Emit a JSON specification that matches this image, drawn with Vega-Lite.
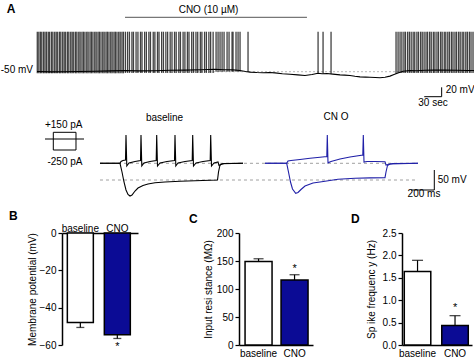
{
  "$schema": "https://vega.github.io/schema/vega-lite/v6.json",
  "padding": 0,
  "background": "white",
  "spacing": 0,
  "bounds": "flush",
  "config": {
    "view": {"stroke": null},
    "font": "Liberation Sans Narrow, Liberation Sans, sans-serif",
    "concat": {"spacing": 0},
    "axis": {"domainColor": "black", "tickColor": "black", "labelColor": "black", "titleColor": "black", "labelFontSize": 10, "titleFontSize": 10, "titleFontWeight": "normal", "grid": false, "domainWidth": 1.5, "tickWidth": 1.2, "tickSize": 4, "labelPadding": 2},
    "text": {"color": "black"}
  },
  "datasets": {
    "spikes": [
      {"t":0.5,"lo":-54,"hi":50},{"t":3.2,"lo":-54,"hi":50},{"t":6.0,"lo":-54,"hi":50},{"t":8.4,"lo":-54,"hi":50},{"t":11.5,"lo":-54,"hi":50},{"t":14.1,"lo":-54,"hi":50},{"t":16.8,"lo":-54,"hi":50},{"t":19.9,"lo":-54,"hi":50},{"t":22.3,"lo":-54,"hi":50},{"t":25.6,"lo":-54,"hi":50},{"t":28.0,"lo":-54,"hi":50},{"t":31.2,"lo":-54,"hi":50},{"t":33.9,"lo":-54,"hi":50},{"t":36.5,"lo":-54,"hi":50},{"t":39.8,"lo":-54,"hi":50},{"t":42.1,"lo":-54,"hi":50},{"t":45.3,"lo":-54,"hi":50},{"t":48.0,"lo":-54,"hi":50},{"t":50.6,"lo":-54,"hi":50},{"t":53.9,"lo":-54,"hi":50},{"t":56.2,"lo":-54,"hi":50},{"t":59.5,"lo":-54,"hi":50},{"t":62.1,"lo":-54,"hi":50},{"t":64.8,"lo":-54,"hi":50},{"t":68.0,"lo":-54,"hi":50},{"t":70.4,"lo":-54,"hi":50},{"t":73.7,"lo":-54,"hi":50},{"t":76.1,"lo":-54,"hi":50},{"t":79.3,"lo":-54,"hi":50},{"t":81.9,"lo":-54,"hi":50},{"t":84.6,"lo":-54,"hi":50},{"t":87.8,"lo":-54,"hi":50},{"t":90.2,"lo":-54,"hi":50},{"t":93.5,"lo":-54,"hi":50},{"t":96.0,"lo":-54,"hi":50},{"t":98.7,"lo":-54,"hi":50},{"t":101.9,"lo":-54,"hi":50},{"t":104.4,"lo":-54,"hi":50},{"t":107.6,"lo":-54,"hi":50},{"t":110.1,"lo":-54,"hi":50},{"t":112.9,"lo":-54,"hi":50},{"t":116.0,"lo":-54,"hi":50},{"t":118.5,"lo":-54,"hi":50},{"t":121.7,"lo":-54,"hi":50},{"t":124.2,"lo":-54,"hi":50},{"t":127.0,"lo":-54,"hi":50},{"t":130.1,"lo":-54,"hi":50},{"t":132.6,"lo":-54,"hi":50},{"t":135.8,"lo":-54,"hi":50},{"t":138.3,"lo":-54,"hi":50},{"t":141.1,"lo":-54,"hi":50},{"t":144.2,"lo":-54,"hi":50},{"t":146.8,"lo":-54,"hi":50},{"t":149.9,"lo":-54,"hi":50},{"t":152.5,"lo":-54,"hi":50},
      {"t":156.0,"lo":-53,"hi":50},{"t":159.8,"lo":-53,"hi":50},{"t":163.1,"lo":-53,"hi":50},{"t":167.5,"lo":-53,"hi":50},{"t":170.2,"lo":-53,"hi":50},{"t":174.8,"lo":-53,"hi":50},{"t":178.1,"lo":-53,"hi":50},{"t":182.6,"lo":-53,"hi":50},{"t":185.3,"lo":-53,"hi":50},{"t":189.9,"lo":-53,"hi":50},{"t":193.0,"lo":-53,"hi":50},{"t":197.4,"lo":-53,"hi":50},{"t":200.2,"lo":-53,"hi":50},{"t":205.1,"lo":-53,"hi":50},{"t":208.0,"lo":-53,"hi":50},{"t":212.6,"lo":-53,"hi":50},{"t":215.3,"lo":-53,"hi":50},{"t":219.9,"lo":-53,"hi":50},{"t":223.1,"lo":-53,"hi":50},{"t":227.4,"lo":-53,"hi":50},{"t":230.5,"lo":-53,"hi":50},{"t":235.0,"lo":-53,"hi":50},{"t":238.2,"lo":-53,"hi":50},{"t":242.7,"lo":-53,"hi":50},{"t":245.6,"lo":-53,"hi":50},{"t":250.3,"lo":-53,"hi":50},{"t":253.1,"lo":-53,"hi":50},{"t":257.8,"lo":-53,"hi":50},{"t":261.0,"lo":-53,"hi":50},{"t":265.4,"lo":-53,"hi":50},{"t":268.2,"lo":-53,"hi":50},{"t":273.0,"lo":-53,"hi":50},{"t":276.1,"lo":-53,"hi":50},{"t":280.5,"lo":-53,"hi":50},{"t":283.6,"lo":-53,"hi":50},{"t":288.2,"lo":-53,"hi":50},{"t":291.0,"lo":-53,"hi":50},{"t":295.7,"lo":-53,"hi":50},{"t":298.9,"lo":-53,"hi":50},{"t":303.3,"lo":-53,"hi":50},{"t":306.4,"lo":-53,"hi":50},{"t":310.8,"lo":-53,"hi":50},
      {"t":316.0,"lo":-50,"hi":50},{"t":319.5,"lo":-50,"hi":50},{"t":323.0,"lo":-50,"hi":50},{"t":326.6,"lo":-50,"hi":50},{"t":330.1,"lo":-50,"hi":50},{"t":335.4,"lo":-50,"hi":50},{"t":338.9,"lo":-50,"hi":50},{"t":344.2,"lo":-50,"hi":50},{"t":345.9,"lo":-50,"hi":50},{"t":351.2,"lo":-50,"hi":50},{"t":354.8,"lo":-50,"hi":50},{"t":358.3,"lo":-50,"hi":50},{"t":372.4,"lo":-51,"hi":50},{"t":496.0,"lo":-54,"hi":50},{"t":504.8,"lo":-54,"hi":50},{"t":518.9,"lo":-55,"hi":50},{"t":633.6,"lo":-55,"hi":50},{"t":637.2,"lo":-53,"hi":50},
      {"t":640.7,"lo":-53,"hi":50},{"t":643.9,"lo":-53,"hi":50},{"t":647.5,"lo":-53,"hi":50},{"t":650.2,"lo":-53,"hi":50},{"t":654.0,"lo":-53,"hi":50},{"t":657.1,"lo":-53,"hi":50},{"t":660.3,"lo":-53,"hi":50},{"t":663.8,"lo":-53,"hi":50},{"t":666.6,"lo":-53,"hi":50},{"t":670.4,"lo":-53,"hi":50},{"t":673.2,"lo":-53,"hi":50},{"t":676.9,"lo":-53,"hi":50},{"t":679.8,"lo":-53,"hi":50},{"t":683.1,"lo":-53,"hi":50},{"t":686.5,"lo":-53,"hi":50},{"t":689.3,"lo":-53,"hi":50},{"t":692.9,"lo":-53,"hi":50},{"t":695.7,"lo":-53,"hi":50},{"t":699.4,"lo":-53,"hi":50},{"t":702.2,"lo":-53,"hi":50},{"t":705.8,"lo":-53,"hi":50},{"t":708.6,"lo":-53,"hi":50},{"t":712.3,"lo":-53,"hi":50},{"t":715.0,"lo":-53,"hi":50},{"t":718.7,"lo":-53,"hi":50},{"t":721.4,"lo":-53,"hi":50},{"t":724.9,"lo":-53,"hi":50},{"t":727.8,"lo":-53,"hi":50},{"t":731.3,"lo":-53,"hi":50},{"t":734.1,"lo":-53,"hi":50},{"t":737.6,"lo":-53,"hi":50},{"t":740.4,"lo":-53,"hi":50},{"t":744.0,"lo":-53,"hi":50},{"t":746.8,"lo":-53,"hi":50},{"t":750.3,"lo":-53,"hi":50},{"t":753.1,"lo":-53,"hi":50},{"t":756.7,"lo":-53,"hi":50},{"t":759.5,"lo":-53,"hi":50},{"t":763.0,"lo":-53,"hi":50},{"t":765.9,"lo":-53,"hi":50},{"t":769.4,"lo":-53,"hi":50},{"t":772.2,"lo":-53,"hi":50},{"t":775.7,"lo":-53,"hi":50},{"t":778.5,"lo":-53,"hi":50}
    ],
    "trace": [
      {"t":0,"v":-49.5},{"t":25,"v":-50.5},{"t":49.4,"v":-50},{"t":75,"v":-49.5},{"t":102.3,"v":-49},{"t":130,"v":-48},{"t":155.3,"v":-47},{"t":180,"v":-48},{"t":208.2,"v":-47.5},{"t":235,"v":-46.5},{"t":261.1,"v":-46},{"t":290,"v":-45},{"t":314.1,"v":-44},{"t":330,"v":-45},{"t":345.9,"v":-45.5},{"t":358.2,"v":-47},{"t":368,"v":-49.5},{"t":375.8,"v":-51},{"t":388,"v":-52},{"t":398.8,"v":-52.5},{"t":410,"v":-52},{"t":420,"v":-53},{"t":433,"v":-55},{"t":446.4,"v":-56.5},{"t":460,"v":-58},{"t":472.9,"v":-59.5},{"t":485.3,"v":-57},{"t":495.9,"v":-54},{"t":503,"v":-55},{"t":511.7,"v":-54.5},{"t":522,"v":-56},{"t":534.7,"v":-58},{"t":543,"v":-58.5},{"t":552.3,"v":-59.5},{"t":561,"v":-61.5},{"t":570,"v":-63},{"t":580,"v":-63.5},{"t":587.6,"v":-64},{"t":597,"v":-64.5},{"t":605.3,"v":-65},{"t":614.1,"v":-64},{"t":622.9,"v":-61},{"t":630,"v":-57},{"t":637,"v":-53},{"t":645.9,"v":-49},{"t":658.2,"v":-47},{"t":670,"v":-47.5},{"t":684.7,"v":-46.5},{"t":700,"v":-46},{"t":720,"v":-46},{"t":740,"v":-46.5},{"t":760,"v":-47},{"t":780,"v":-47}
    ],
    "a1rules": [
      {"item":"ref","t":0,"t2":780,"v":-50,"v2":-50},
      {"item":"cno","t":155.3,"t2":476.4,"v":86,"v2":86},
      {"item":"scale","t":714.1,"t2":714.1,"v":-89,"v2":-112.5},
      {"item":"scale","t":683.4,"t2":714.1,"v":-112.5,"v2":-112.5}
    ],
    "iv": [
      {"cond":"baseline","trace":"b-dep","t":825.7,"v":-54.5},{"cond":"baseline","trace":"b-dep","t":999.6,"v":-54.5},{"cond":"baseline","trace":"b-dep","t":1008.3,"v":-50},{"cond":"baseline","trace":"b-dep","t":1025.7,"v":-47.5},{"cond":"baseline","trace":"b-dep","t":1047.4,"v":-46.25},{"cond":"baseline","trace":"b-dep","t":1051.7,"v":16.25},{"cond":"baseline","trace":"b-dep","t":1058.7,"v":-61.25},{"cond":"baseline","trace":"b-dep","t":1077.8,"v":-53.75},{"cond":"baseline","trace":"b-dep","t":1130,"v":-50},{"cond":"baseline","trace":"b-dep","t":1177.8,"v":-47.5},{"cond":"baseline","trace":"b-dep","t":1182.1,"v":16.25},{"cond":"baseline","trace":"b-dep","t":1189,"v":-61.25},{"cond":"baseline","trace":"b-dep","t":1208.2,"v":-53.75},{"cond":"baseline","trace":"b-dep","t":1260.3,"v":-50},{"cond":"baseline","trace":"b-dep","t":1314.2,"v":-47.5},{"cond":"baseline","trace":"b-dep","t":1318.6,"v":16.25},{"cond":"baseline","trace":"b-dep","t":1325.5,"v":-61.25},{"cond":"baseline","trace":"b-dep","t":1347.3,"v":-53.75},{"cond":"baseline","trace":"b-dep","t":1408.1,"v":-50},{"cond":"baseline","trace":"b-dep","t":1473.3,"v":-47.5},{"cond":"baseline","trace":"b-dep","t":1477.6,"v":16.25},{"cond":"baseline","trace":"b-dep","t":1484.6,"v":-61.25},{"cond":"baseline","trace":"b-dep","t":1503.7,"v":-53.75},{"cond":"baseline","trace":"b-dep","t":1564.6,"v":-50},{"cond":"baseline","trace":"b-dep","t":1627.2,"v":-47.5},{"cond":"baseline","trace":"b-dep","t":1631.5,"v":16.25},{"cond":"baseline","trace":"b-dep","t":1638.4,"v":-61.25},{"cond":"baseline","trace":"b-dep","t":1660.2,"v":-53.75},{"cond":"baseline","trace":"b-dep","t":1721,"v":-50},{"cond":"baseline","trace":"b-dep","t":1783.6,"v":-47.5},{"cond":"baseline","trace":"b-dep","t":1787.9,"v":16.25},{"cond":"baseline","trace":"b-dep","t":1794.9,"v":-61.25},{"cond":"baseline","trace":"b-dep","t":1816.6,"v":-53.75},{"cond":"baseline","trace":"b-dep","t":1851.4,"v":-51.25},{"cond":"baseline","trace":"b-dep","t":1860.1,"v":-60},{"cond":"baseline","trace":"b-dep","t":1877.5,"v":-57.5},{"cond":"baseline","trace":"b-dep","t":1903.5,"v":-55},{"cond":"baseline","trace":"b-dep","t":2068.7,"v":-54.5},
      {"cond":"baseline","trace":"b-hyp","t":825.7,"v":-54.5},{"cond":"baseline","trace":"b-hyp","t":999.6,"v":-54.5},{"cond":"baseline","trace":"b-hyp","t":1017,"v":-76.25},{"cond":"baseline","trace":"b-hyp","t":1034.3,"v":-101.25},{"cond":"baseline","trace":"b-hyp","t":1051.7,"v":-121.25},{"cond":"baseline","trace":"b-hyp","t":1069.1,"v":-132.5},{"cond":"baseline","trace":"b-hyp","t":1086.5,"v":-136.25},{"cond":"baseline","trace":"b-hyp","t":1103.9,"v":-133.75},{"cond":"baseline","trace":"b-hyp","t":1130,"v":-123.75},{"cond":"baseline","trace":"b-hyp","t":1156,"v":-116.25},{"cond":"baseline","trace":"b-hyp","t":1199.5,"v":-110},{"cond":"baseline","trace":"b-hyp","t":1243,"v":-106.25},{"cond":"baseline","trace":"b-hyp","t":1303.8,"v":-103.25},{"cond":"baseline","trace":"b-hyp","t":1390.7,"v":-101.25},{"cond":"baseline","trace":"b-hyp","t":1521.1,"v":-99.5},{"cond":"baseline","trace":"b-hyp","t":1651.5,"v":-98.25},{"cond":"baseline","trace":"b-hyp","t":1781.9,"v":-97},{"cond":"baseline","trace":"b-hyp","t":1847.1,"v":-96.25},{"cond":"baseline","trace":"b-hyp","t":1855.8,"v":-76.25},{"cond":"baseline","trace":"b-hyp","t":1868.8,"v":-58.75},{"cond":"baseline","trace":"b-hyp","t":1886.2,"v":-55.75},{"cond":"baseline","trace":"b-hyp","t":2068.7,"v":-54.5},
      {"cond":"CNO","trace":"c-dep","t":2259.9,"v":-54.5},{"cond":"CNO","trace":"c-dep","t":2448.5,"v":-54.5},{"cond":"CNO","trace":"c-dep","t":2459.8,"v":-48.75},{"cond":"CNO","trace":"c-dep","t":2485.9,"v":-47.5},{"cond":"CNO","trace":"c-dep","t":2564.1,"v":-45},{"cond":"CNO","trace":"c-dep","t":2651.1,"v":-42},{"cond":"CNO","trace":"c-dep","t":2738,"v":-39.25},{"cond":"CNO","trace":"c-dep","t":2797.1,"v":-37.5},{"cond":"CNO","trace":"c-dep","t":2801.4,"v":16.25},{"cond":"CNO","trace":"c-dep","t":2807.5,"v":-53.25},{"cond":"CNO","trace":"c-dep","t":2833.6,"v":-50},{"cond":"CNO","trace":"c-dep","t":2911.8,"v":-43.75},{"cond":"CNO","trace":"c-dep","t":2998.7,"v":-38.75},{"cond":"CNO","trace":"c-dep","t":3110,"v":-33.75},{"cond":"CNO","trace":"c-dep","t":3114.4,"v":16.25},{"cond":"CNO","trace":"c-dep","t":3120.4,"v":-51.25},{"cond":"CNO","trace":"c-dep","t":3146.5,"v":-50},{"cond":"CNO","trace":"c-dep","t":3216,"v":-50},{"cond":"CNO","trace":"c-dep","t":3303,"v":-50.5},{"cond":"CNO","trace":"c-dep","t":3311.7,"v":-58.75},{"cond":"CNO","trace":"c-dep","t":3337.7,"v":-57},{"cond":"CNO","trace":"c-dep","t":3372.5,"v":-55},{"cond":"CNO","trace":"c-dep","t":3589.8,"v":-54.5},
      {"cond":"CNO","trace":"c-hyp","t":2259.9,"v":-54.5},{"cond":"CNO","trace":"c-hyp","t":2448.5,"v":-54.5},{"cond":"CNO","trace":"c-hyp","t":2464.1,"v":-76.25},{"cond":"CNO","trace":"c-hyp","t":2481.6,"v":-101.25},{"cond":"CNO","trace":"c-hyp","t":2498.9,"v":-118.75},{"cond":"CNO","trace":"c-hyp","t":2526.8,"v":-129.5},{"cond":"CNO","trace":"c-hyp","t":2546.8,"v":-127.5},{"cond":"CNO","trace":"c-hyp","t":2572.8,"v":-120},{"cond":"CNO","trace":"c-hyp","t":2607.6,"v":-111.25},{"cond":"CNO","trace":"c-hyp","t":2677.1,"v":-103.75},{"cond":"CNO","trace":"c-hyp","t":2752.8,"v":-100.5},{"cond":"CNO","trace":"c-hyp","t":2894.4,"v":-94.5},{"cond":"CNO","trace":"c-hyp","t":3042.2,"v":-92},{"cond":"CNO","trace":"c-hyp","t":3172.6,"v":-91},{"cond":"CNO","trace":"c-hyp","t":3303,"v":-90.5},{"cond":"CNO","trace":"c-hyp","t":3311.7,"v":-76.25},{"cond":"CNO","trace":"c-hyp","t":3324.7,"v":-60},{"cond":"CNO","trace":"c-hyp","t":3346.4,"v":-56.25},{"cond":"CNO","trace":"c-hyp","t":3589.8,"v":-54.5}
    ],
    "a2rules": [
      {"item":"dash","t":825.7,"t2":3589.8,"v":-54.5,"v2":-54.5},
      {"item":"dash","t":825.7,"t2":3589.8,"v":-96.25,"v2":-96.25}
    ],
    "a2solid": [
      {"item":"scale","t":3731.5,"t2":3731.5,"v":-71.25,"v2":-121.25},
      {"item":"scale","t":3529,"t2":3731.5,"v":-121.25,"v2":-121.25},
      {"item":"icon","t":347.7,"t2":686.7,"v":6.25,"v2":6.25}
    ]
  },
  "vconcat": [
    {
      "width": 474,
      "height": 110,
      "encoding": {
        "x": {"field": "t", "type": "quantitative", "scale": {"domain": [-56.5, 780], "nice": false, "zero": false}, "axis": null},
        "y": {"field": "v", "type": "quantitative", "scale": {"domain": [-145.75, 129.25], "nice": false, "zero": false}, "axis": null}
      },
      "layer": [
        {"data": {"name": "a1rules"}, "transform": [{"filter": "datum.item == 'ref'"}], "mark": {"type": "rule", "color": "#999999", "strokeWidth": 0.7, "strokeDash": [2, 2]}, "encoding": {"x2": {"field": "t2"}, "y2": {"field": "v2"}}},
        {"data": {"name": "spikes"}, "mark": {"type": "rule", "color": "#111111", "strokeWidth": 1.3, "opacity": 0.8}, "encoding": {"y": {"field": "lo", "type": "quantitative"}, "y2": {"field": "hi"}}},
        {"data": {"name": "trace"}, "mark": {"type": "line", "color": "black", "strokeWidth": 1.1}, "encoding": {}},
        {"data": {"name": "a1rules"}, "transform": [{"filter": "datum.item == 'cno'"}], "mark": {"type": "rule", "color": "#555555", "strokeWidth": 1}, "encoding": {"x2": {"field": "t2"}, "y2": {"field": "v2"}}},
        {"data": {"name": "a1rules"}, "transform": [{"filter": "datum.item == 'scale'"}], "mark": {"type": "rule", "color": "black", "strokeWidth": 1}, "encoding": {"x2": {"field": "t2"}, "y2": {"field": "v2"}}},
        {"data": {"values": [{"t": -53.5, "v": 96, "label": "A"}]}, "mark": {"type": "text", "align": "left", "baseline": "alphabetic", "font": "Liberation Sans", "fontSize": 12, "fontWeight": "bold"}, "encoding": {"text": {"field": "label"}}},
        {"data": {"values": [{"t": 302.6, "v": 105, "label": "CNO  (10 µM)"}, {"t": 698.8, "v": -127.5, "label": "30 sec"}]}, "mark": {"type": "text", "align": "center", "baseline": "middle", "fontSize": 10}, "encoding": {"text": {"field": "label"}}},
        {"data": {"values": [{"t": 721.2, "v": -95.75, "label": "20 mV"}]}, "mark": {"type": "text", "align": "left", "baseline": "middle", "fontSize": 10}, "encoding": {"text": {"field": "label"}}},
        {"data": {"values": [{"t": -7.1, "v": -45.75, "label": "-50 mV"}]}, "mark": {"type": "text", "align": "right", "baseline": "middle", "fontSize": 10}, "encoding": {"text": {"field": "label"}}}
      ]
    },
    {
      "width": 474,
      "height": 123,
      "encoding": {
        "x": {"field": "t", "type": "quantitative", "scale": {"domain": [0, 4120], "nice": false, "zero": false}, "axis": null},
        "y": {"field": "v", "type": "quantitative", "scale": {"domain": [-228.75, 78.75], "nice": false, "zero": false}, "axis": null}
      },
      "layer": [
        {"data": {"name": "a2rules"}, "mark": {"type": "rule", "color": "#888888", "strokeWidth": 0.8, "strokeDash": [3, 3]}, "encoding": {"x2": {"field": "t2"}, "y2": {"field": "v2"}}},
        {"data": {"name": "iv"}, "mark": {"type": "line", "strokeWidth": 1.1}, "encoding": {"color": {"field": "cond", "type": "nominal", "scale": {"domain": ["baseline", "CNO"], "range": ["#000000", "#2020a8"]}, "legend": null}, "detail": {"field": "trace"}}},
        {"data": {"name": "a2solid"}, "mark": {"type": "rule", "color": "black", "strokeWidth": 1}, "encoding": {"x2": {"field": "t2"}, "y2": {"field": "v2"}}},
        {"data": {"values": [{"t": 419.8, "t2": 617.1, "v": 23, "v2": -21.25}]}, "mark": {"type": "rect", "fill": null, "fillOpacity": 0, "stroke": "black", "strokeWidth": 1}, "encoding": {"x2": {"field": "t2"}, "y2": {"field": "v2"}}},
        {"data": {"values": [{"t": 510.2, "v": 41.25, "label": "+150 pA"}, {"t": 521.5, "v": -52, "label": "-250 pA"}, {"t": 1386.4, "v": 58, "label": "baseline"}, {"t": 2877, "v": 61.25, "label": "CN O"}, {"t": 3642, "v": -131.25, "label": "200 ms"}]}, "mark": {"type": "text", "align": "center", "baseline": "middle", "fontSize": 10}, "encoding": {"text": {"field": "label"}}},
        {"data": {"values": [{"t": 3761, "v": -96.25, "label": "50 mV"}]}, "mark": {"type": "text", "align": "left", "baseline": "middle", "fontSize": 10}, "encoding": {"text": {"field": "label"}}}
      ]
    },
    {
      "hconcat": [
        {"width": 57, "height": 112, "data": {"values": [{}]}, "mark": {"type": "point", "opacity": 0}},
        {
          "width": 76,
          "height": 112,
          "title": {"text": "B", "anchor": "start", "frame": "group", "dx": -53, "font": "Liberation Sans", "fontSize": 12, "fontWeight": "bold", "color": "black", "offset": 0},
          "data": {"values": [{"cond": "baseline", "mean": -48, "err": -50.6}, {"cond": "CNO", "mean": -54.5, "err": -56.5, "star": -61, "sig": "*"}]},
          "encoding": {
            "x": {"field": "cond", "type": "nominal", "sort": ["baseline", "CNO"], "scale": {"paddingInner": 0.297, "paddingOuter": 0.176, "align": 0.41}, "axis": {"orient": "top", "title": null, "ticks": false, "labelAngle": 0, "labelPadding": 0}},
            "y": {"field": "mean", "type": "quantitative", "scale": {"domain": [-60, 0], "nice": false}, "axis": {"title": "Membrane potential (mV)", "values": [0, -20, -40, -60], "titlePadding": 2}}
          },
          "layer": [
            {"mark": {"type": "bar", "stroke": "black", "strokeWidth": 1.5}, "encoding": {"fill": {"field": "cond", "type": "nominal", "scale": {"domain": ["baseline", "CNO"], "range": ["#ffffff", "#0b0b95"]}, "legend": null}}},
            {"mark": {"type": "rule", "color": "black", "strokeWidth": 1.2}, "encoding": {"y2": {"field": "err"}}},
            {"mark": {"type": "tick", "color": "black", "thickness": 1.3, "size": 8}, "encoding": {"y": {"field": "err", "type": "quantitative"}}},
            {"transform": [{"filter": "datum.sig != null"}], "mark": {"type": "text", "fontSize": 11, "baseline": "middle", "font": "Liberation Sans"}, "encoding": {"y": {"field": "star", "type": "quantitative"}, "text": {"field": "sig"}}}
          ]
        },
        {"width": 101, "height": 112, "data": {"values": [{}]}, "mark": {"type": "point", "opacity": 0}},
        {
          "width": 74,
          "height": 112,
          "title": {"text": "C", "anchor": "start", "frame": "group", "dx": -50, "font": "Liberation Sans", "fontSize": 12, "fontWeight": "bold", "color": "black", "offset": 2},
          "data": {"values": [{"cond": "baseline", "mean": 149, "err": 154}, {"cond": "CNO", "mean": 116, "err": 125.5, "star": 136, "sig": "*"}]},
          "encoding": {
            "x": {"field": "cond", "type": "nominal", "sort": ["baseline", "CNO"], "scale": {"paddingInner": 0.25, "paddingOuter": 0.153, "align": 0.55}, "axis": {"title": null, "ticks": false, "labelAngle": 0, "labelPadding": 3}},
            "y": {"field": "mean", "type": "quantitative", "scale": {"domain": [0, 200], "nice": false}, "axis": {"title": "Input resi stance (MΩ)", "values": [0, 50, 100, 150, 200], "titlePadding": 3}}
          },
          "layer": [
            {"mark": {"type": "bar", "stroke": "black", "strokeWidth": 1.5}, "encoding": {"fill": {"field": "cond", "type": "nominal", "scale": {"domain": ["baseline", "CNO"], "range": ["#ffffff", "#0b0b95"]}, "legend": null}}},
            {"mark": {"type": "rule", "color": "black", "strokeWidth": 1.2}, "encoding": {"y2": {"field": "err"}}},
            {"mark": {"type": "tick", "color": "black", "thickness": 1.3, "size": 10}, "encoding": {"y": {"field": "err", "type": "quantitative"}}},
            {"transform": [{"filter": "datum.sig != null"}], "mark": {"type": "text", "fontSize": 11, "baseline": "middle", "font": "Liberation Sans"}, "encoding": {"y": {"field": "star", "type": "quantitative"}, "text": {"field": "sig"}}}
          ]
        },
        {"width": 89, "height": 112, "data": {"values": [{}]}, "mark": {"type": "point", "opacity": 0}},
        {
          "width": 70,
          "height": 112,
          "title": {"text": "D", "anchor": "start", "frame": "group", "dx": -51, "font": "Liberation Sans", "fontSize": 12, "fontWeight": "bold", "color": "black", "offset": 2},
          "data": {"values": [{"cond": "baseline", "mean": 1.64, "err": 1.89}, {"cond": "CNO", "mean": 0.435, "err": 0.655, "star": 0.826, "sig": "*"}]},
          "encoding": {
            "x": {"field": "cond", "type": "nominal", "sort": ["baseline", "CNO"], "scale": {"paddingInner": 0.293, "paddingOuter": 0.08, "align": 0.38}, "axis": {"title": null, "ticks": false, "labelAngle": 0, "labelPadding": 3}},
            "y": {"field": "mean", "type": "quantitative", "scale": {"domain": [0, 2.5], "nice": false}, "axis": {"title": "Sp ike frequenc y (Hz)", "values": [0, 0.5, 1, 1.5, 2, 2.5], "format": ".1f", "titlePadding": 6}}
          },
          "layer": [
            {"mark": {"type": "bar", "stroke": "black", "strokeWidth": 1.5}, "encoding": {"fill": {"field": "cond", "type": "nominal", "scale": {"domain": ["baseline", "CNO"], "range": ["#ffffff", "#0b0b95"]}, "legend": null}}},
            {"mark": {"type": "rule", "color": "black", "strokeWidth": 1.2}, "encoding": {"y2": {"field": "err"}}},
            {"mark": {"type": "tick", "color": "black", "thickness": 1.3, "size": 11}, "encoding": {"y": {"field": "err", "type": "quantitative"}}},
            {"transform": [{"filter": "datum.sig != null"}], "mark": {"type": "text", "fontSize": 11, "baseline": "middle", "font": "Liberation Sans"}, "encoding": {"y": {"field": "star", "type": "quantitative"}, "text": {"field": "sig"}}}
          ]
        }
      ],
      "spacing": 0,
      "bounds": "flush"
    }
  ]
}
